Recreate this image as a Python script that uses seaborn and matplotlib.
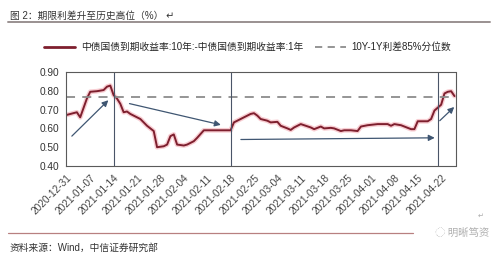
import pandas as pd
import numpy as np
import matplotlib
matplotlib.use("Agg")
import matplotlib.pyplot as plt
import matplotlib.dates as mdates
import matplotlib.patheffects as pe
from matplotlib.lines import Line2D
import seaborn as sns

# ============================================================
# DATA
# ============================================================

dates = [
    "2020-12-31", "2021-01-03", "2021-01-04", "2021-01-06", "2021-01-07",
    "2021-01-09", "2021-01-11", "2021-01-12", "2021-01-13", "2021-01-14",
    "2021-01-15", "2021-01-16", "2021-01-17", "2021-01-18", "2021-01-19",
    "2021-01-21", "2021-01-22", "2021-01-24", "2021-01-26", "2021-01-27",
    "2021-01-29", "2021-01-30", "2021-01-31", "2021-02-01", "2021-02-02",
    "2021-02-04", "2021-02-05", "2021-02-07", "2021-02-08", "2021-02-10",
    "2021-02-18", "2021-02-19", "2021-02-21", "2021-02-22", "2021-02-24",
    "2021-02-25", "2021-02-26", "2021-02-27", "2021-03-01", "2021-03-02",
    "2021-03-04", "2021-03-05", "2021-03-07", "2021-03-08", "2021-03-09",
    "2021-03-10", "2021-03-11", "2021-03-12", "2021-03-14", "2021-03-15",
    "2021-03-17", "2021-03-18", "2021-03-20", "2021-03-21", "2021-03-23",
    "2021-03-24", "2021-03-26", "2021-03-28", "2021-03-29", "2021-03-31",
    "2021-04-03", "2021-04-06", "2021-04-07", "2021-04-08", "2021-04-10",
    "2021-04-11", "2021-04-13", "2021-04-14", "2021-04-15", "2021-04-18",
    "2021-04-19", "2021-04-20", "2021-04-22", "2021-04-23", "2021-04-24",
    "2021-04-25", "2021-04-26",
]
spread = [
    0.672, 0.686, 0.659, 0.759, 0.795,
    0.798, 0.804, 0.822, 0.828, 0.777,
    0.759, 0.731, 0.686, 0.690, 0.677,
    0.659, 0.650, 0.614, 0.586, 0.500,
    0.505, 0.514, 0.559, 0.568, 0.514,
    0.509, 0.514, 0.532, 0.550, 0.590,
    0.590, 0.632, 0.650, 0.659, 0.677,
    0.681, 0.668, 0.650, 0.641, 0.632,
    0.635, 0.614, 0.600, 0.592, 0.605,
    0.614, 0.623, 0.617, 0.605, 0.596,
    0.610, 0.600, 0.603, 0.600, 0.586,
    0.590, 0.590, 0.586, 0.610, 0.617,
    0.623, 0.623, 0.614, 0.623, 0.617,
    0.610, 0.596, 0.596, 0.638, 0.638,
    0.650, 0.695, 0.726, 0.786, 0.795,
    0.798, 0.772,
]
pct85 = 0.766

vlines = ["2021-01-14", "2021-02-18", "2021-04-21"]

# arrows: (start date, start y, end date, end y)
arrows = [
    ("2021-01-01 12:00", 0.559, "2021-01-12 10:00", 0.750),
    ("2021-01-18 18:00", 0.732, "2021-02-15 02:00", 0.619),
    ("2021-02-21 02:00", 0.541, "2021-04-20 02:00", 0.550),
    ("2021-04-21 14:00", 0.641, "2021-04-25 22:00", 0.714),
]

tick_dates = pd.date_range("2020-12-31", "2021-04-22", freq="7D")

title = "图 2：期限利差升至历史高位（%）"
label_main = "中债国债到期收益率:10年:-中债国债到期收益率:1年"
label_pct = "10Y-1Y利差85%分位数"
source = "资料来源：Wind，中信证券研究部"

df = pd.DataFrame({"date": pd.to_datetime(dates), "spread": spread})

# ============================================================
# PLOT
# ============================================================

sns.set_style("white")
plt.rcParams["font.family"] = ["Liberation Sans", "Noto Sans CJK SC", "DejaVu Sans"]

fig = plt.figure(figsize=(5, 2.61), dpi=100)
ax = fig.add_axes([0.132, 0.364, 0.779, 0.36])

red = "#7E1F2E"
sns.lineplot(data=df, x="date", y="spread", ax=ax, color=red, lw=1.4,
             path_effects=[pe.Stroke(linewidth=3.4, foreground="#F8CDD2"), pe.Normal()])

ax.axhline(pct85, color="#8C8C8C", lw=1.3, ls=(0, (5, 4)))

for d in vlines:
    ax.axvline(pd.Timestamp(d), color="#4A5568", lw=0.8)

for x0, y0, x1, y1 in arrows:
    ax.annotate("", xy=(pd.Timestamp(x1), y1), xytext=(pd.Timestamp(x0), y0),
                arrowprops=dict(arrowstyle="-|>", color="#3F5672", lw=0.9,
                                mutation_scale=9, shrinkA=0, shrinkB=0))

start = pd.Timestamp("2020-12-31")
ax.set_xlim(start - pd.Timedelta(hours=6), start + pd.Timedelta(days=116.3))
ax.set_ylim(0.40, 0.90)
ax.set_yticks(np.arange(0.40, 0.901, 0.10))
ax.yaxis.set_major_formatter(plt.FormatStrFormatter("%.2f"))
ax.set_xticks(tick_dates)
ax.xaxis.set_major_formatter(mdates.DateFormatter("%Y-%m-%d"))
plt.setp(ax.get_xticklabels(), rotation=45, ha="right", rotation_mode="anchor")
ax.tick_params(axis="both", labelsize=7.3, colors="#333333", length=3,
               width=0.8, direction="out", pad=2)
ax.tick_params(axis="x", labelcolor="#444444")
ax.set_xlabel("")
ax.set_ylabel("")
for s in ax.spines.values():
    s.set_color("#5A5A5A")
    s.set_linewidth(0.8)

# legend
handles = [
    Line2D([0], [0], color=red, lw=2),
    Line2D([0], [0], color="#8C8C8C", lw=1.3, ls=(0, (4, 3))),
]
fig.legend(handles, [label_main, label_pct], loc="center",
           bbox_to_anchor=(0.495, 0.82), ncol=2, frameon=False,
           fontsize=7, handlelength=3.2, columnspacing=1.2, handletextpad=0.6)

# title and decorations
fig.text(0.02, 0.94, title + " ↵", fontsize=7, color="#333333", va="center")
fig.add_artist(Line2D([0.016, 0.98], [0.916, 0.916], color="#9A9090", lw=1.4))
fig.add_artist(Line2D([0.016, 0.826], [0.107, 0.107], color="#B88080", lw=0.9))
fig.text(0.02, 0.05, source, fontsize=7, color="#333333", va="center")
fig.text(0.955, 0.17, "↵", fontsize=5, color="#AAAAAA", va="center")
fig.text(0.87, 0.107, "◌ 明晰笃资", fontsize=7.5, color="#B0B0B0", va="center",
         family=["Noto Sans CJK SC", "DejaVu Sans"])

fig.savefig("out.png", dpi=100)
